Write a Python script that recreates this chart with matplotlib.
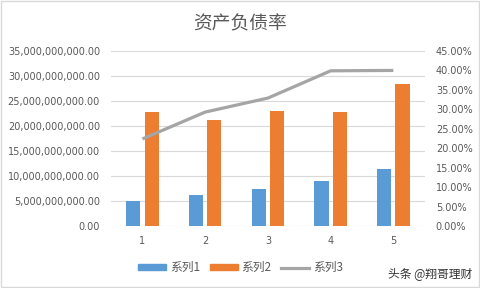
import matplotlib
matplotlib.use('Agg')
import matplotlib.pyplot as plt
from matplotlib.patches import Patch, Rectangle
from matplotlib.lines import Line2D
from matplotlib.ticker import FuncFormatter, MultipleLocator
import numpy as np

plt.rcParams['font.family'] = ['DejaVu Sans', 'Noto Sans CJK SC']

categories = ['1', '2', '3', '4', '5']
series1 = [5.0e9, 6.2e9, 7.4e9, 9.0e9, 11.4e9]
series2 = [22.8e9, 21.2e9, 23.0e9, 22.8e9, 28.4e9]
series3 = [0.224, 0.293, 0.329, 0.399, 0.400]
names = ['系列1', '系列2', '系列3']

blue = '#5b9bd5'
orange = '#ed7d31'
gray = '#a5a5a5'
txt = '#595959'

fig = plt.figure(figsize=(4.81, 2.88), dpi=100)
ax = fig.add_axes([0.231, 0.215, 0.652, 0.608])
ax2 = ax.twinx()

x = np.arange(len(categories))
w = 0.225
ax.bar(x - 0.145, series1, w, color=blue, zorder=2)
ax.bar(x + 0.145, series2, w, color=orange, zorder=2)
ax2.plot(x, series3, color=gray, lw=2.3, solid_capstyle='butt', zorder=3)

ax.set_xlim(-0.5, 4.5)
ax.set_ylim(0, 35e9)
ax2.set_ylim(0, 0.45)
ax.yaxis.set_major_locator(MultipleLocator(5e9))
ax2.yaxis.set_major_locator(MultipleLocator(0.05))
ax.yaxis.set_major_formatter(FuncFormatter(lambda v, p: f'{v:,.2f}'))
ax2.yaxis.set_major_formatter(FuncFormatter(lambda v, p: f'{v*100:.2f}%'))
ax.set_xticks(x)
ax.set_xticklabels(categories)

ax.grid(axis='y', color='#d9d9d9', lw=0.8, zorder=0)
ax.set_axisbelow(True)
for a in (ax, ax2):
    for s in a.spines.values():
        s.set_visible(False)
    a.tick_params(length=0, labelsize=7, labelcolor=txt)
ax.tick_params(axis='y', pad=8)
ax2.tick_params(axis='y', pad=8)
ax.tick_params(axis='x', pad=7)

fig.text(0.5, 0.918, '资产负债率', ha='center', va='center', fontsize=13.5,
         color=txt, family=['Noto Sans CJK SC'])

handles = [Patch(color=blue), Patch(color=orange), Line2D([], [], color=gray, lw=2.3)]
leg = fig.legend(handles, names, loc='center', bbox_to_anchor=(0.5, 0.07), ncol=3,
                 frameon=False, handlelength=2.4, handleheight=0.4,
                 columnspacing=0.8, handletextpad=0.3,
                 prop={'family': ['Noto Sans CJK SC'], 'size': 8.5})
for t in leg.get_texts():
    t.set_color(txt)

fig.text(0.982, 0.05, '头条 @翔哥理财', ha='right', va='center', fontsize=8.5,
         color='#333333', family=['Noto Sans CJK SC'])

fig.patches.append(Rectangle((0.002, 0.004), 0.994, 0.992, transform=fig.transFigure,
                             fill=False, edgecolor='#d9d9d9', lw=1))

fig.savefig('out.png', dpi=100)
